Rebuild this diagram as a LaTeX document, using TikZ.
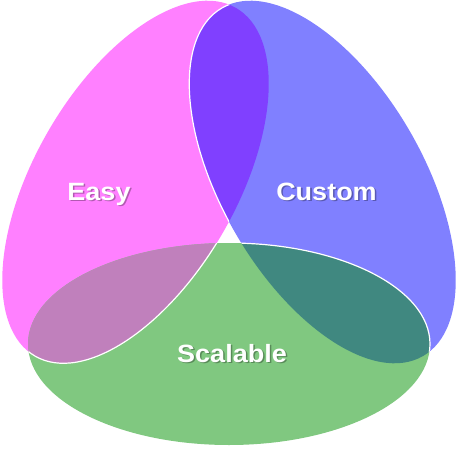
\documentclass[tikz,border=0pt]{standalone}
\usepackage{fontspec}
\newfontfamily\lobefont[FakeStretch=1.08]{Liberation Sans}
\usetikzlibrary{positioning}

\definecolor{easycol}{HTML}{FF80FF}
\definecolor{customcol}{HTML}{8080FF}
\definecolor{scalecol}{HTML}{80C880}
\definecolor{easycustom}{HTML}{8040FF}
\definecolor{customscale}{HTML}{408880}
\definecolor{easyscale}{HTML}{C080BC}

% lobe outlines (centres set as coordinates in the picture)
\newcommand{\easylobe}{(easyc) ellipse [x radius=201, y radius=101]}
\newcommand{\customlobe}{(customc) ellipse [x radius=201, y radius=101]}
\newcommand{\scalelobe}{(scalec) ellipse [x radius=201, y radius=101]}

\begin{document}
\begin{tikzpicture}[
		x=1pt, y=1pt,
		% --- styles ---
		easyrot/.style={rotate around={60:(easyc)}},
		customrot/.style={rotate around={-60:(customc)}},
		lobeedge/.style={draw=white, line width=1.2pt},
		lobelabel/.style={
			font=\lobefont\bfseries\fontsize{25}{30}\selectfont, text=white, anchor=base
		},
		lobeshadow/.style={
			font=\lobefont\bfseries\fontsize{25}{30}\selectfont, text=black, opacity=0.3, anchor=base
		}
	]
	\useasboundingbox (0,0) rectangle (457,448);
	
	\coordinate (easyc) at (135.5,266);
	\coordinate (customc) at (322.5,266);
	\coordinate (scalec) at (229,104);
	
	% ==========================================
	% 1. Fills
	% ==========================================
	\fill[easycol, easyrot] \easylobe;
	\fill[customcol, customrot] \customlobe;
	\begin{scope}
		\clip[easyrot] \easylobe;
		\fill[easycustom, customrot] \customlobe;
	\end{scope}
	\fill[scalecol] \scalelobe;
	\begin{scope}
		\clip[customrot] \customlobe;
		\fill[customscale] \scalelobe;
	\end{scope}
	\begin{scope}
		\clip \scalelobe;
		\fill[easyscale, easyrot] \easylobe;
	\end{scope}
	
	% ==========================================
	% 2. White edges (only where a lobe lies on top)
	% ==========================================
	\begin{scope}
		\clip \scalelobe;
		\draw[lobeedge, easyrot] \easylobe;
	\end{scope}
	\begin{scope}
		\clip[easyrot] \easylobe;
		\draw[lobeedge, customrot] \customlobe;
	\end{scope}
	\begin{scope}
		\clip[customrot] \customlobe;
		\draw[lobeedge] \scalelobe;
	\end{scope}
	
	% ==========================================
	% 3. Labels
	% ==========================================
	\node[lobeshadow] (easyshadow) at (100.5,246.5) {Easy};
	\node[lobelabel] (easy) at (99,248) {Easy};
	\node[lobeshadow] (customshadow) at (328,246.5) {Custom};
	\node[lobelabel] (custom) at (326.5,248) {Custom};
	\node[lobeshadow] (scaleshadow) at (233.5,84.5) {Scalable};
	\node[lobelabel] (scale) at (232,86) {Scalable};
\end{tikzpicture}
\end{document}
